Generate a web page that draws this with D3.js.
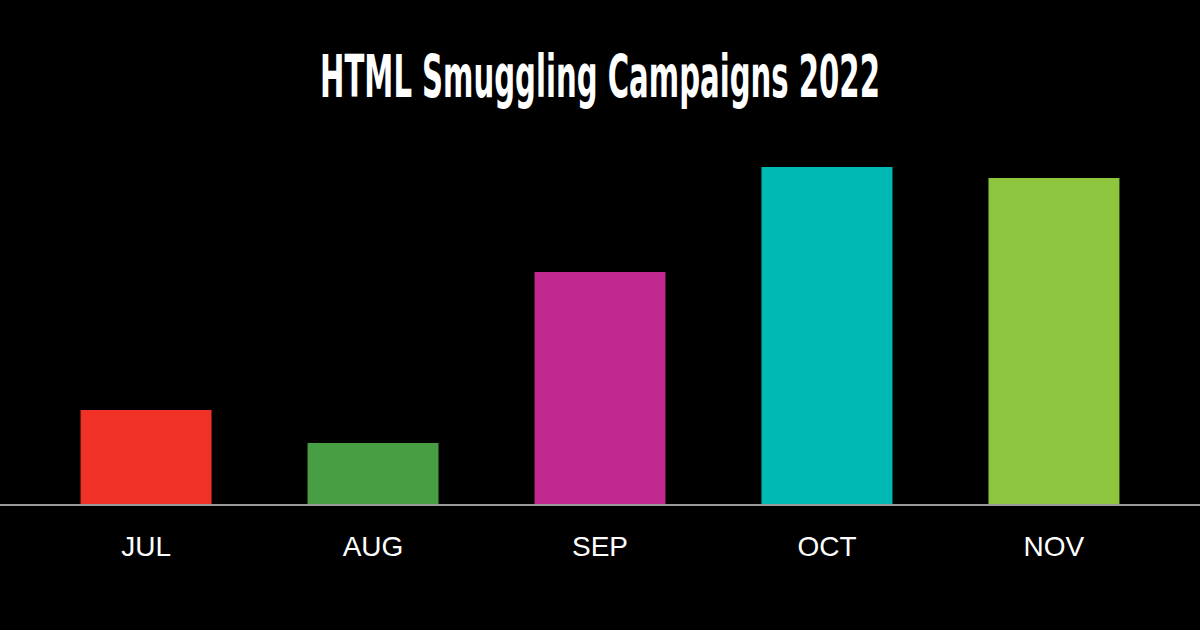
<!DOCTYPE html>
<html>
<head>
<meta charset="utf-8">
<script src="https://cdn.jsdelivr.net/npm/d3@7"></script>
<style>
  html, body { margin: 0; padding: 0; background: #000; }
  svg { display: block; }
</style>
</head>
<body>
<div id="chart"></div>
<script>
// Months shown along the baseline
const months = ["JUL", "AUG", "SEP", "OCT", "NOV"];
// Relative campaign volume (no axis in the original)
const campaigns = [94, 61, 232, 337, 326];
// One colour per bar
const barColors = ["#ef3225", "#489e42", "#c02a90", "#00b9b4", "#8ec53f"];

const width = 1200;
const height = 630;
const baseline = 504;

const svg = d3.select("#chart")
    .append("svg")
    .attr("width", width)
    .attr("height", height)
    .attr("viewBox", "0 0 " + width + " " + height)
    .style("background", "#000");

// --------------------------------------
// Scales
const x = d3.scaleBand()
    .domain(months)
    .range([0, width])
    .paddingInner(0.423)
    .paddingOuter(0.355);

const y = d3.scaleLinear()
    .domain([0, 337])
    .range([baseline, 167]);

// --------------------------------------
// Title: condensed bold face, squeezed horizontally to the original's width
const titleWidth = 560;
const title = svg.append("text")
    .attr("x", 0)
    .attr("y", 0)
    .attr("text-anchor", "middle")
    .style("font-family", "'Liberation Sans Narrow', 'DejaVu Sans Condensed', 'Liberation Sans', sans-serif")
    .style("font-weight", "bold")
    .style("font-size", "58px")
    .style("fill", "#fff")
    .text("HTML Smuggling Campaigns 2022");
const natural = title.node().getComputedTextLength();
title.attr("transform", "translate(" + (width / 2) + ",97) scale(" + (titleWidth / natural) + ",1)");

// --------------------------------------
// Bars
svg.append("g")
    .selectAll("rect")
    .data(months)
    .join("rect")
    .attr("x", d => x(d))
    .attr("width", x.bandwidth())
    .attr("y", (d, i) => y(campaigns[i]))
    .attr("height", (d, i) => y(0) - y(campaigns[i]))
    .attr("fill", (d, i) => barColors[i]);

// --------------------------------------
// Baseline spans the whole picture
svg.append("line")
    .attr("x1", 0)
    .attr("x2", width)
    .attr("y1", y(0) + 1)
    .attr("y2", y(0) + 1)
    .attr("stroke", "#9a9a9a")
    .attr("stroke-width", 2);

// --------------------------------------
// Month labels
const xAxis = d3.axisBottom(x).tickSize(0).tickPadding(0);
const axisG = svg.append("g")
    .attr("transform", "translate(0," + baseline + ")")
    .call(xAxis);
axisG.select(".domain").remove();
axisG.selectAll("text")
    .attr("dy", null)
    .attr("y", 52)
    .style("font-family", "'Liberation Sans', Arial, sans-serif")
    .style("font-size", "28px")
    .style("fill", "#fff");
</script>
</body>
</html>
